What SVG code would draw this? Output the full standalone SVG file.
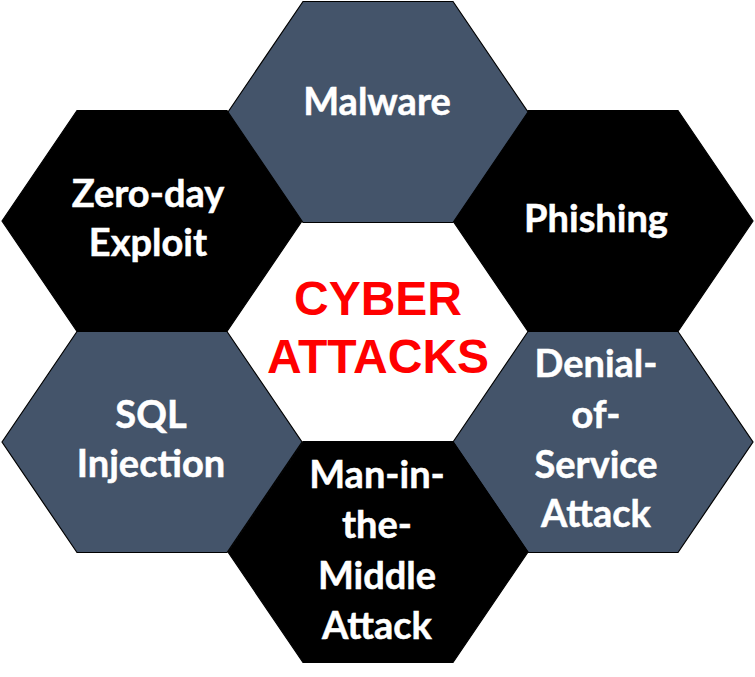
<svg xmlns="http://www.w3.org/2000/svg" width="755" height="677" viewBox="0 0 755 677">
  <defs>
    <style>
      .hex { stroke: #000000; stroke-width: 1.2; }
      .slate { fill: #44546A; }
      .dark { fill: #000000; }
      .lbl { font-family: Lato, "Open Sans", "Noto Sans", sans-serif; font-weight: bold; font-size: 38px; fill: #FFFFFF; stroke: #FFFFFF; stroke-width: 0.5; text-anchor: middle; }
      .title { font-family: "Liberation Sans", Arial, sans-serif; font-weight: bold; font-size: 48px; fill: #FF0000; text-anchor: middle; }
    </style>
    <polygon id="hexshape" points="-150,0 -75,-110.5 75,-110.5 150,0 75,110.5 -75,110.5"/>
  </defs>
  <rect width="755" height="677" fill="#FFFFFF"/>

  <g id="connectors"/>

  <g id="zero-day">
    <use href="#hexshape" class="hex dark" transform="translate(152,221)"/>
    <text class="lbl" x="148" y="207">Zero-day</text>
    <text class="lbl" x="148" y="256">Exploit</text>
  </g>

  <g id="phishing">
    <use href="#hexshape" class="hex dark" transform="translate(603,221)"/>
    <text class="lbl" x="596" y="232">Phishing</text>
  </g>

  <g id="sql-injection">
    <use href="#hexshape" class="hex slate" transform="translate(152,442)"/>
    <text class="lbl" x="151" y="428">SQL</text>
    <text class="lbl" x="151" y="477">Injection</text>
  </g>

  <g id="denial-of-service">
    <use href="#hexshape" class="hex slate" transform="translate(603,442)"/>
    <text class="lbl" x="596" y="377">Denial-</text>
    <text class="lbl" x="596" y="428">of-</text>
    <text class="lbl" x="596" y="478">Service</text>
    <text class="lbl" x="596" y="527">Attack</text>
  </g>

  <g id="malware">
    <use href="#hexshape" class="hex slate" transform="translate(378,112)"/>
    <text class="lbl" x="377" y="115">Malware</text>
  </g>

  <g id="man-in-the-middle">
    <use href="#hexshape" class="hex dark" transform="translate(378,552)"/>
    <text class="lbl" x="377" y="488">Man-in-</text>
    <text class="lbl" x="377" y="538">the-</text>
    <text class="lbl" x="377" y="589">Middle</text>
    <text class="lbl" x="377" y="639">Attack</text>
  </g>

  <g id="center">
    <text class="title" x="378" y="315">CYBER</text>
    <text class="title" x="378" y="373">ATTACKS</text>
  </g>
</svg>
